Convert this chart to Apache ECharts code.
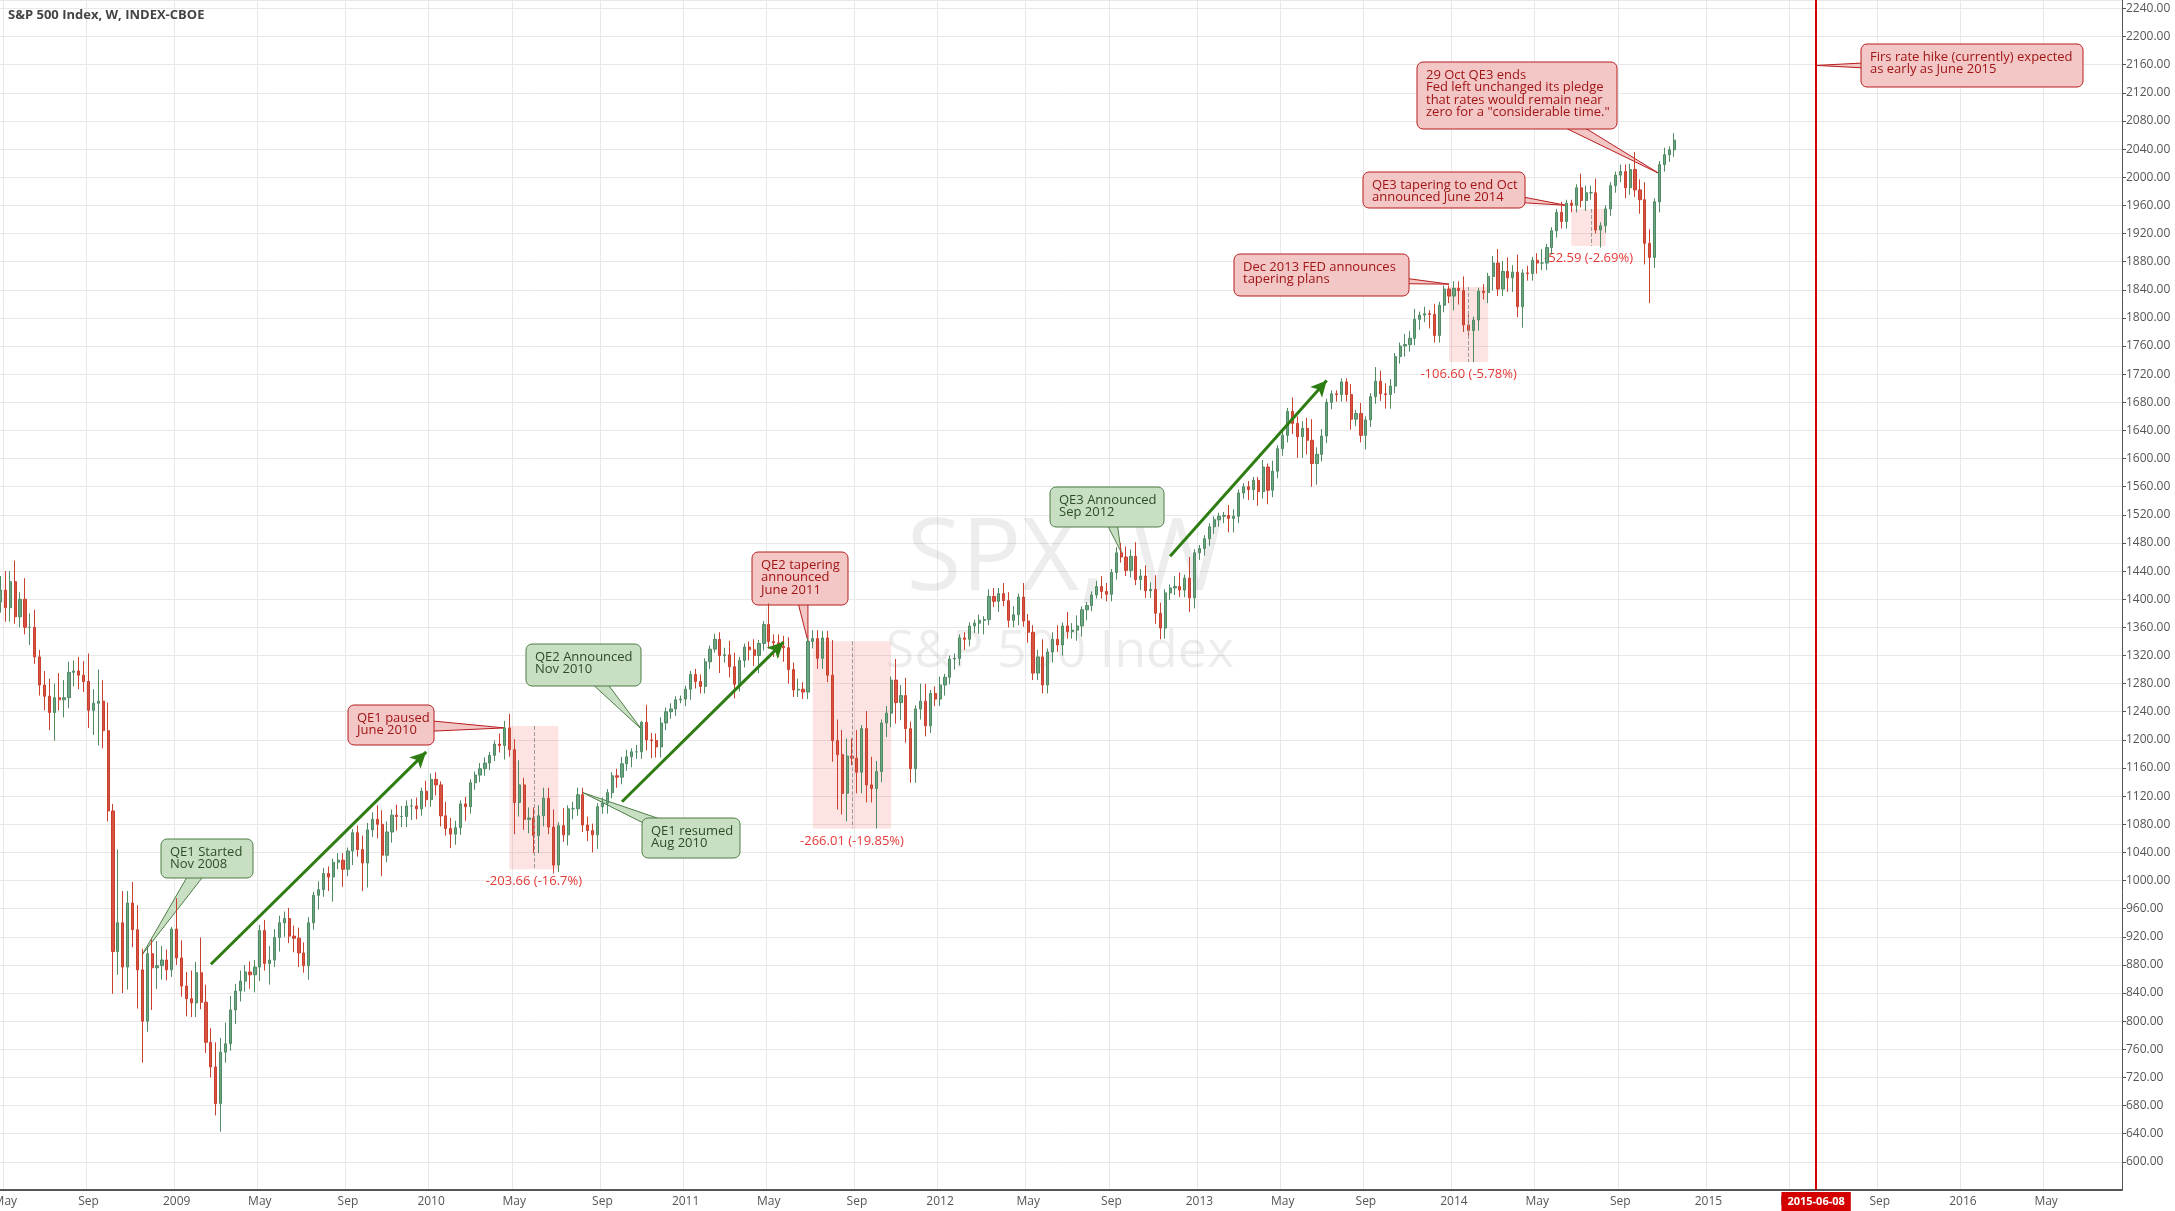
<!DOCTYPE html>
<html>
<head>
<meta charset="utf-8">
<script src="https://cdn.jsdelivr.net/npm/echarts@6/dist/echarts.min.js"></script>
<style>html,body{margin:0;padding:0;background:#fff}#chart{width:2175px;height:1211px}</style>
</head>
<body>
<div id="chart"></div>
<script>
// weekly closes, week starting Monday 2008-04-28
const closes2008 = [1413,1388,1425,1375,1400, 1360,1360,1318,1278,1262, 1239,1260,1257,1260, 1296,1298,1292,1283, 1242,1252,1255,1213,1099, 899,940,877,968, 930,873,800,896, 876,879,887,873,931]
const closes2009 = [890,850,832,826, 869,827,770,735, 683,756,768,816,843, 857,870,866,877, 929,882,887,919, 940,946,921,918,897, 879,940,979,987, 1010,1005,1026,1029,1016, 1042,1068,1044,1025, 1072,1087,1080,1036, 1069,1093,1091,1091,1106, 1106,1102,1127,1115]
const closes2010 = [1144,1136,1092,1074, 1066,1075,1109,1105, 1139,1150,1159,1167,1178, 1194,1192,1217,1186, 1111,1136,1087,1089,1064, 1092,1117,1076,1022, 1078,1065,1102,1102, 1122,1079,1071,1065,1105, 1110,1125,1149,1147, 1166,1176,1183,1183, 1225,1200,1199,1190,1224, 1240,1244,1257,1258]
const closes2011 = [1272,1293,1283,1276,1311, 1329,1343,1320,1321, 1304,1279,1313,1332, 1328,1320,1337,1364, 1340,1338,1333,1331,1300, 1271,1272,1268,1340, 1344,1316,1345,1292, 1199,1179,1124,1177,1174, 1154,1216,1136,1131, 1155,1224,1238,1285,1253, 1263,1216,1159,1244, 1255,1220,1266,1258]
const closes2012 = [1278,1289,1315,1316,1345, 1343,1362,1366,1370, 1371,1404,1397,1408, 1398,1370,1378,1403,1369, 1353,1295,1318,1278, 1325,1343,1335,1362, 1354,1356,1362,1385,1391, 1406,1418,1411,1407, 1438,1466,1460,1441, 1461,1428,1433,1412,1414, 1380,1359,1409,1416, 1418,1413,1430,1402,1466]
const closes2013 = [1472,1486,1503,1513, 1518,1519,1515,1518, 1551,1560,1556,1569, 1553,1588,1555,1582,1614, 1633,1667,1650,1631, 1643,1626,1593,1606, 1632,1680,1692,1691,1709, 1691,1656,1664,1633, 1655,1688,1710,1692,1691, 1703,1745,1760,1762, 1771,1798,1804,1806, 1805,1775,1818,1841,1831]
const closes2014 = [1842,1839,1790,1782, 1797,1838,1836,1859, 1878,1841,1866,1857,1865, 1816,1864,1863,1882, 1878,1878,1900,1924, 1950,1937,1963,1960,1985, 1967,1978,1978,1925, 1931,1955,1988,2003, 2008,1985,2011,1982,1968, 1906,1886,1965,2018, 2032,2039,2052.75]
const firstOpen = 1396

// wick length above / below the candle body
const wickUp = [20,27,15,30,10, 30,20,25,10,20, 25,20,35,25, 15,15,20,20, 40,20,45,30,40, 10,104,45,17, 30,35,30,10, 20,35,20,15,3,
  44,25,20,40, 15,50,25,20, 35,20,30,20,10, 15,10,15,10, 8,15,20,12, 10,10,15,15,15, 15,8,5,12, 8,10,5,10,10, 5,5,10,20, 10,10,20,20, 15,8,15,15,8, 10,12,5,15,
  8,10,5,20, 15,10,5,10, 5,5,8,8,5, 5,15,10,20, 15,35,10,15,15, 15,15,15,25, 5,25,5,10, 10,10,12,10,5, 8,5,5,10, 10,10,5,10, 2,25,10,10,8, 6,8,5,5,
  5,5,8,10,5, 5,8,10,10, 20,20,5,5, 8,15,5,5, 30,10,12,15,15, 10,15,10,5, 12,12,10,10, 50,30,35,25,25, 40,5,25,40, 15,5,10,5,30, 15,25,10,5, 25,25,5,10,
  12,5,5,7,5, 8,5,5,8, 5,10,12,8, 15,12,12,5,20, 10,10,10,25, 5,10,20,5, 20,10,15,5,5, 5,8,15,12, 5,8,14,15, 10,20,10,15,10, 20,15,5,5, 15,20,5,30,5,
  5,5,5,5, 5,5,15,10, 5,5,8,5, 5,10,5,15,5, 5,5,20,10, 10,15,30,10, 10,5,5,5,5, 5,15,5,15, 5,5,20,15,15, 10,5,5,15, 10,15,5,10, 5,15,5,5,5,
  10,10,20,15, 5,5,10,5, 10,20,15,20,10, 25,5,10,5, 10,20,5,5, 5,15,5,5,5, 20,10,10,20, 5,5,5,5, 10,10,8,25,15, 25,20,5,5, 10,5,10]
const wickDn = [15,20,20,10,15, 10,25,10,15,20, 25,40,15,25, 15,20,20,15, 25,35,60,25,15, 60,33,37,32, 25,55,59,15, 60,30,20,15,10,
  10,15,25,20, 20,10,15,15, 17,40,15,10,20, 15,15,20,25, 20,10,30,10, 20,20,10,20,20, 10,20,10,20, 10,20,35,10,25, 10,20,10,40, 35,10,20,30, 10,15,20,15,15, 20,15,10,10,
  10,15,15,10, 20,15,10,20, 10,10,10,10,10, 8,10,20,10, 45,20,15,20,25, 25,15,10,12, 10,10,15,15, 10,10,15,25,20, 10,15,8,15, 10,10,15,10, 10,15,25,15,15, 10,10,10,5,
  10,15,10,10,10, 10,5,25,10, 15,20,10,10, 15,15,25,10, 10,20,15,20,20, 10,10,10,10, 10,15,15,10, 30,78,30,40,10, 30,30,25,20, 57,15,20,20,30, 25,20,20,20, 15,15,10,10,
  10,15,10,15,10, 15,10,10,15, 20,8,8,15, 8,10,10,15,8, 15,10,10,12, 12,15,10,15, 10,10,15,15,15, 8,5,10,10, 10,10,8,8, 10,8,15,10,10, 15,16,15,10, 10,10,10,20,15,
  10,10,10,10, 10,10,20,20, 10,8,15,15, 20,10,20,10,10, 10,10,15,30, 30,20,33,30, 10,10,10,10,10, 10,15,10,10, 20,10,10,10,20, 20,10,10,15, 10,10,15,10, 20,10,10,10,10,
  20,20,10,10, 45,15,10,15, 20,10,10,20,20, 15,30,10,10, 15,10,10,10, 10,10,10,10,10, 10,15,10,5, 25,10,10,10, 10,15,10,10,20, 30,65,15,15, 10,10,10]

const lastPrice = 2052.75
const rateHikeDate = '2015-06-08'

// drawdown boxes: [start, end, top, bottom, label]
const drops = [
  ['2010-04-26', '2010-07-05', 1219.8, 1016.1, '-203.66 (-16.7%)'],
  ['2011-07-04', '2011-10-24', 1340.2, 1074.1, '-266.01 (-19.85%)'],
  ['2013-12-30', '2014-02-24', 1844.0, 1737.4, '-106.60 (-5.78%)'],
  ['2014-06-23', '2014-08-11', 1955.0, 1902.4, '-52.59 (-2.69%)'],
]

// trend arrows: [startDate, startVal, endDate, endVal]
const arrows = [
  ['2009-02-23', 881, '2009-12-28', 1183],
  ['2010-10-04', 1112, '2011-05-23', 1339],
  ['2012-11-26', 1461, '2013-07-08', 1711],
]

// callouts: [text, kind, anchorDate, anchorVal, boxX, boxY, boxW, boxH]
const notes = [
  ['QE1 Started\nNov 2008', 'g', '2008-11-17', 895, 161, 839, 92, 39],
  ['QE1 paused\nJune 2010', 'r', '2010-04-19', 1217, 348, 705, 86, 40],
  ['QE2 Announced\nNov 2010', 'g', '2010-11-01', 1215, 526, 644, 115, 42],
  ['QE1 resumed\nAug 2010', 'g', '2010-08-09', 1125, 642, 818, 98, 40],
  ['QE2 tapering\nannounced\nJune 2011', 'r', '2011-06-27', 1340, 752, 552, 96, 53],
  ['QE3 Announced\nSep 2012', 'g', '2012-09-17', 1467, 1050, 487, 114, 40],
  ['Dec 2013 FED announces\ntapering plans', 'r', '2013-12-30', 1848, 1234, 254, 175, 42],
  ['QE3 tapering to end Oct\nannounced June 2014', 'r', '2014-06-16', 1960, 1363, 172, 162, 36],
  ['29 Oct QE3 ends\nFed left unchanged its pledge\nthat rates would remain near\nzero for a "considerable time."', 'r', '2014-10-27', 2005, 1417, 62, 200, 67],
  ['Firs rate hike (currently) expected\nas early as June 2015', 'r', rateHikeDate, 2159, 1861, 44, 222, 43],
]

const MON = ['Jan','Feb','Mar','Apr','May','Jun','Jul','Aug','Sep','Oct','Nov','Dec']
const fmt = d => d.toISOString().slice(0, 10)

// weekly categories (Mondays) through summer 2016
const weeks = []
for (let t = Date.UTC(2008, 3, 28); t <= Date.UTC(2016, 7, 15); t += 7 * 864e5) weeks.push(fmt(new Date(t)))

const closes = [...closes2008, ...closes2009, ...closes2010, ...closes2011, ...closes2012, ...closes2013, ...closes2014]
const candles = closes.map((c, i) => {
  const o = i === 0 ? firstOpen : closes[i - 1]
  return [o, c, Math.min(o, c) - (wickDn[i] || 0), Math.max(o, c) + (wickUp[i] || 0)]
})

const isTick = (idx, val) => {
  const m = +val.slice(5, 7), d = +val.slice(8, 10)
  return d <= 7 && (m === 1 || m === 5 || m === 9)
}
const tickLabel = val => {
  const m = +val.slice(5, 7)
  return m === 1 ? val.slice(0, 4) : MON[m - 1]
}

const chart = echarts.init(document.getElementById('chart'))
const font = 'Open Sans, DejaVu Sans, sans-serif'

const option = {
  animation: false,
  textStyle: {fontFamily: font},
  grid: {left: -2, right: 53, top: 0, bottom: 21, outerBoundsMode: 'none', containLabel: false},
  xAxis: {
    type: 'category',
    data: weeks,
    boundaryGap: true,
    axisLine: {lineStyle: {color: '#555', width: 2}},
    axisTick: {show: false},
    axisLabel: {interval: isTick, formatter: tickLabel, color: '#555', fontSize: 12, margin: 6},
    splitLine: {show: true, interval: isTick, lineStyle: {color: '#e8e8e8'}},
  },
  yAxis: {
    type: 'value',
    position: 'right',
    min: 560,
    max: 2252,
    interval: 40,
    axisLine: {show: true, lineStyle: {color: '#555'}},
    axisTick: {show: true, length: 4, lineStyle: {color: '#555'}},
    axisLabel: {color: '#555', fontSize: 12, margin: 4, showMinLabel: false, showMaxLabel: false,
      formatter: v => v.toFixed(2)},
    splitLine: {lineStyle: {color: '#e8e8e8'}},
  },
  series: [{
    type: 'candlestick',
    data: candles,
    barWidth: '55%',
    itemStyle: {color: '#6ba583', color0: '#d75442', borderColor: '#4f8a63', borderColor0: '#c9402f', borderWidth: 1},
    markArea: {
      silent: true,
      itemStyle: {color: 'rgba(244,67,54,0.15)'},
      label: {position: 'bottom', color: '#e53935', fontSize: 13, distance: 6},
      data: drops.map(d => [{coord: [d[0], d[2]], name: d[4]}, {coord: [d[1], d[3]]}]),
    },
    markLine: {
      silent: true,
      symbol: 'none',
      data: [
        ...drops.map(d => {
          const mid = weeks[Math.round((weeks.indexOf(d[0]) + weeks.indexOf(d[1])) / 2)]
          return [{coord: [mid, d[2]], lineStyle: {color: '#999', type: 'dashed', width: 1}, label: {show: false}},
            {coord: [mid, d[3]]}]
        }),
        ...arrows.map(a => [{coord: [a[0], a[1]], symbol: 'none', lineStyle: {color: '#2e7d12', width: 3, type: 'solid'}, label: {show: false}},
          {coord: [a[2], a[3]], symbol: 'arrow', symbolSize: [12, 16]}]),
        {xAxis: rateHikeDate, lineStyle: {color: '#d40000', width: 2, type: 'solid'},
          label: {show: true, position: 'start', formatter: rateHikeDate, color: '#fff', backgroundColor: '#d40000',
            padding: [4, 6], fontSize: 11, fontWeight: 'bold', distance: 2}},
        {yAxis: lastPrice, lineStyle: {opacity: 0},
          label: {show: true, position: 'end', formatter: lastPrice.toFixed(2), color: '#fff', backgroundColor: '#5f9c72',
            padding: [3, 4], fontSize: 12, fontWeight: 'bold', distance: 2}},
      ],
    },
  }],
}
chart.setOption(option)

// watermark, title and callouts
const graphics = [
  {type: 'text', left: 8, top: 9, style: {text: 'S&P 500 Index, W, INDEX-CBOE', fill: '#444', font: 'bold 13px ' + font}},
  {type: 'text', x: 1065, y: 562, silent: true, style: {text: 'SPX, W', fill: 'rgba(0,0,0,0.07)', font: '100px ' + font, align: 'center', verticalAlign: 'middle'}},
  {type: 'text', x: 1060, y: 652, silent: true, style: {text: 'S&P 500 Index', fill: 'rgba(0,0,0,0.07)', font: '52px ' + font, align: 'center', verticalAlign: 'middle'}},
]
notes.forEach(n => {
  const [text, kind, ad, av, bx, by, bw, bh] = n
  const fill = kind === 'g' ? '#c9dfc3' : '#f4c7c7'
  const stroke = kind === 'g' ? '#4e7d45' : '#b71c1c'
  const txt = kind === 'g' ? '#2b4d26' : '#a01515'
  const tip = chart.convertToPixel({seriesIndex: 0}, [ad, av])
  const cx = bx + bw / 2, cy = by + bh / 2
  const dx = tip[0] - cx, dy = tip[1] - cy, len = Math.hypot(dx, dy)
  const px = -dy / len * 8, py = dx / len * 8
  graphics.push({type: 'polygon', shape: {points: [[cx + px, cy + py], [cx - px, cy - py], tip]}, style: {fill, stroke, lineWidth: 1}})
  graphics.push({type: 'rect', shape: {x: bx, y: by, width: bw, height: bh, r: 6}, style: {fill, stroke, lineWidth: 1}})
  graphics.push({type: 'text', x: bx + 9, y: by + 7, style: {text, fill: txt, font: '13px ' + font, lineHeight: 12.5}})
})
chart.setOption({graphic: graphics})
</script>
</body>
</html>
